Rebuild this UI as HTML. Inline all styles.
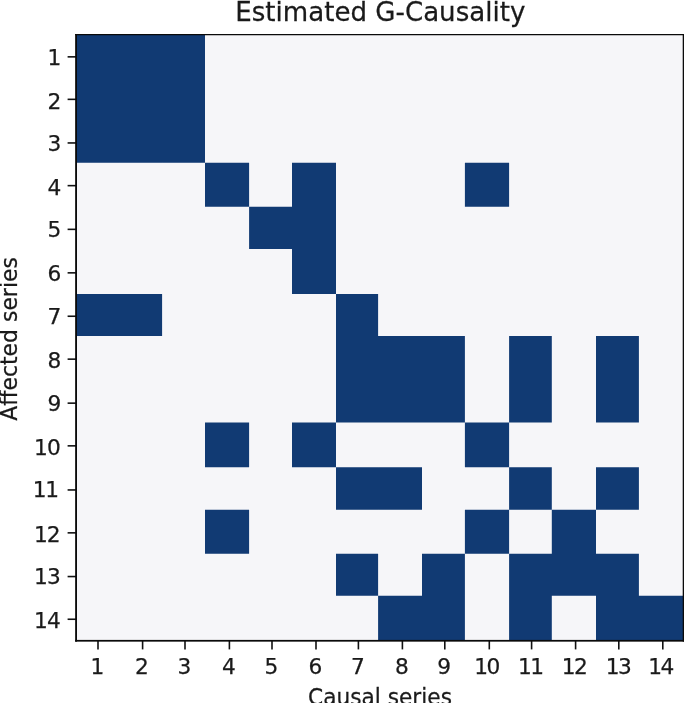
<!DOCTYPE html><html><head><meta charset="utf-8"><title>Estimated G-Causality</title>
<style>html,body{margin:0;padding:0;background:#fff;overflow:hidden}svg{display:block}text{font-family:"DejaVu Sans","Liberation Sans",sans-serif;fill:#1a1a1a;stroke:#1a1a1a;stroke-width:0.25px}</style></head><body>
<svg width="685" height="703" viewBox="0 0 685 703">
<rect x="0" y="0" width="685" height="703" fill="#fff"/>
<rect x="76.0" y="34.45" width="607.20" height="606.55" fill="#f6f6f9"/>
<g fill="#113a73">
<path d="M76.00 34.45H119.20V76.60H76.00ZM119.20 34.45H162.10V76.60H119.20ZM162.10 34.45H205.00V76.60H162.10ZM76.00 76.60H119.20V120.60H76.00ZM119.20 76.60H162.10V120.60H119.20ZM162.10 76.60H205.00V120.60H162.10ZM76.00 120.60H119.20V162.70H76.00ZM119.20 120.60H162.10V162.70H119.20ZM162.10 120.60H205.00V162.70H162.10ZM205.00 162.70H249.10V206.80H205.00ZM292.00 162.70H336.00V206.80H292.00ZM464.90 162.70H509.10V206.80H464.90ZM249.10 206.80H292.00V249.10H249.10ZM292.00 206.80H336.00V249.10H292.00ZM292.00 249.10H336.00V293.90H292.00ZM76.00 293.90H119.20V336.00H76.00ZM119.20 293.90H162.10V336.00H119.20ZM336.00 293.90H378.10V336.00H336.00ZM336.00 336.00H378.10V379.80H336.00ZM378.10 336.00H422.00V379.80H378.10ZM422.00 336.00H464.90V379.80H422.00ZM509.10 336.00H551.80V379.80H509.10ZM596.00 336.00H638.90V379.80H596.00ZM336.00 379.80H378.10V422.50H336.00ZM378.10 379.80H422.00V422.50H378.10ZM422.00 379.80H464.90V422.50H422.00ZM509.10 379.80H551.80V422.50H509.10ZM596.00 379.80H638.90V422.50H596.00ZM205.00 422.50H249.10V467.20H205.00ZM292.00 422.50H336.00V467.20H292.00ZM464.90 422.50H509.10V467.20H464.90ZM336.00 467.20H378.10V509.70H336.00ZM378.10 467.20H422.00V509.70H378.10ZM509.10 467.20H551.80V509.70H509.10ZM596.00 467.20H638.90V509.70H596.00ZM205.00 509.70H249.10V553.70H205.00ZM464.90 509.70H509.10V553.70H464.90ZM551.80 509.70H596.00V553.70H551.80ZM336.00 553.70H378.10V595.85H336.00ZM422.00 553.70H464.90V595.85H422.00ZM509.10 553.70H551.80V595.85H509.10ZM551.80 553.70H596.00V595.85H551.80ZM596.00 553.70H638.90V595.85H596.00ZM378.10 595.85H422.00V641.00H378.10ZM422.00 595.85H464.90V641.00H422.00ZM509.10 595.85H551.80V641.00H509.10ZM596.00 595.85H638.90V641.00H596.00ZM638.90 595.85H683.20V641.00H638.90Z"/>
</g>
<g stroke="#111" stroke-width="1.6">
<line x1="98.00" y1="641.0" x2="98.00" y2="649.4"/>
<line x1="76.0" y1="56.85" x2="67.6" y2="56.85"/>
<line x1="142.60" y1="641.0" x2="142.60" y2="649.4"/>
<line x1="76.0" y1="99.35" x2="67.6" y2="99.35"/>
<line x1="185.00" y1="641.0" x2="185.00" y2="649.4"/>
<line x1="76.0" y1="142.95" x2="67.6" y2="142.95"/>
<line x1="229.40" y1="641.0" x2="229.40" y2="649.4"/>
<line x1="76.0" y1="185.65" x2="67.6" y2="185.65"/>
<line x1="272.00" y1="641.0" x2="272.00" y2="649.4"/>
<line x1="76.0" y1="229.35" x2="67.6" y2="229.35"/>
<line x1="316.00" y1="641.0" x2="316.00" y2="649.4"/>
<line x1="76.0" y1="272.85" x2="67.6" y2="272.85"/>
<line x1="358.40" y1="641.0" x2="358.40" y2="649.4"/>
<line x1="76.0" y1="316.25" x2="67.6" y2="316.25"/>
<line x1="402.40" y1="641.0" x2="402.40" y2="649.4"/>
<line x1="76.0" y1="359.15" x2="67.6" y2="359.15"/>
<line x1="444.80" y1="641.0" x2="444.80" y2="649.4"/>
<line x1="76.0" y1="403.15" x2="67.6" y2="403.15"/>
<line x1="489.30" y1="641.0" x2="489.30" y2="649.4"/>
<line x1="76.0" y1="445.85" x2="67.6" y2="445.85"/>
<line x1="531.60" y1="641.0" x2="531.60" y2="649.4"/>
<line x1="76.0" y1="489.95" x2="67.6" y2="489.95"/>
<line x1="575.60" y1="641.0" x2="575.60" y2="649.4"/>
<line x1="76.0" y1="532.85" x2="67.6" y2="532.85"/>
<line x1="618.80" y1="641.0" x2="618.80" y2="649.4"/>
<line x1="76.0" y1="576.55" x2="67.6" y2="576.55"/>
<line x1="662.80" y1="641.0" x2="662.80" y2="649.4"/>
<line x1="76.0" y1="619.25" x2="67.6" y2="619.25"/>
</g>
<g fill="#0a0a0a">
<rect x="75.15" y="34.0" width="1.85" height="607.65"/>
<rect x="682.7" y="34.0" width="1.30" height="607.65"/>
<rect x="75.15" y="34.0" width="608.85" height="1.25"/>
<rect x="75.15" y="639.9" width="608.85" height="1.75"/>
</g>
<g font-size="21.7px">
<text x="97.40" y="673.7" text-anchor="middle">1</text>
<text x="61.2" y="64.55" text-anchor="end">1</text>
<text x="142.00" y="673.7" text-anchor="middle">2</text>
<text x="61.2" y="108.60" text-anchor="end">2</text>
<text x="184.40" y="673.7" text-anchor="middle">3</text>
<text x="61.2" y="151.05" text-anchor="end">3</text>
<text x="228.80" y="673.7" text-anchor="middle">4</text>
<text x="61.2" y="194.75" text-anchor="end">4</text>
<text x="271.40" y="673.7" text-anchor="middle">5</text>
<text x="61.2" y="236.90" text-anchor="end">5</text>
<text x="315.40" y="673.7" text-anchor="middle">6</text>
<text x="61.2" y="281.35" text-anchor="end">6</text>
<text x="357.80" y="673.7" text-anchor="middle">7</text>
<text x="61.2" y="324.45" text-anchor="end">7</text>
<text x="401.80" y="673.7" text-anchor="middle">8</text>
<text x="61.2" y="367.65" text-anchor="end">8</text>
<text x="444.20" y="673.7" text-anchor="middle">9</text>
<text x="61.2" y="411.05" text-anchor="end">9</text>
<text x="486.60" y="673.7" text-anchor="middle" letter-spacing="-1.45">10</text>
<text x="34.10 47.00" y="454.85">10</text>
<text x="530.30" y="673.7" text-anchor="middle" letter-spacing="-1.45">11</text>
<text x="32.70 45.15" y="497.45">11</text>
<text x="574.00" y="673.7" text-anchor="middle" letter-spacing="-1.45">12</text>
<text x="34.10 46.70" y="541.75">12</text>
<text x="618.00" y="673.7" text-anchor="middle" letter-spacing="-1.45">13</text>
<text x="34.10 47.00" y="584.15">13</text>
<text x="660.60" y="673.7" text-anchor="middle" letter-spacing="-1.45">14</text>
<text x="34.10 47.00" y="628.15">14</text>
</g>
<text transform="translate(380.3,20.7) scale(1,1.035)" font-size="26.1px" text-anchor="middle">Estimated G-Causality</text>
<text transform="translate(380.0,704.5) scale(1,1.02)" font-size="21.7px" text-anchor="middle">Causal series</text>
<text transform="translate(17.3,338.9) rotate(-90) scale(1,1.02)" font-size="21.95px" text-anchor="middle">Affected series</text>
</svg></body></html>
